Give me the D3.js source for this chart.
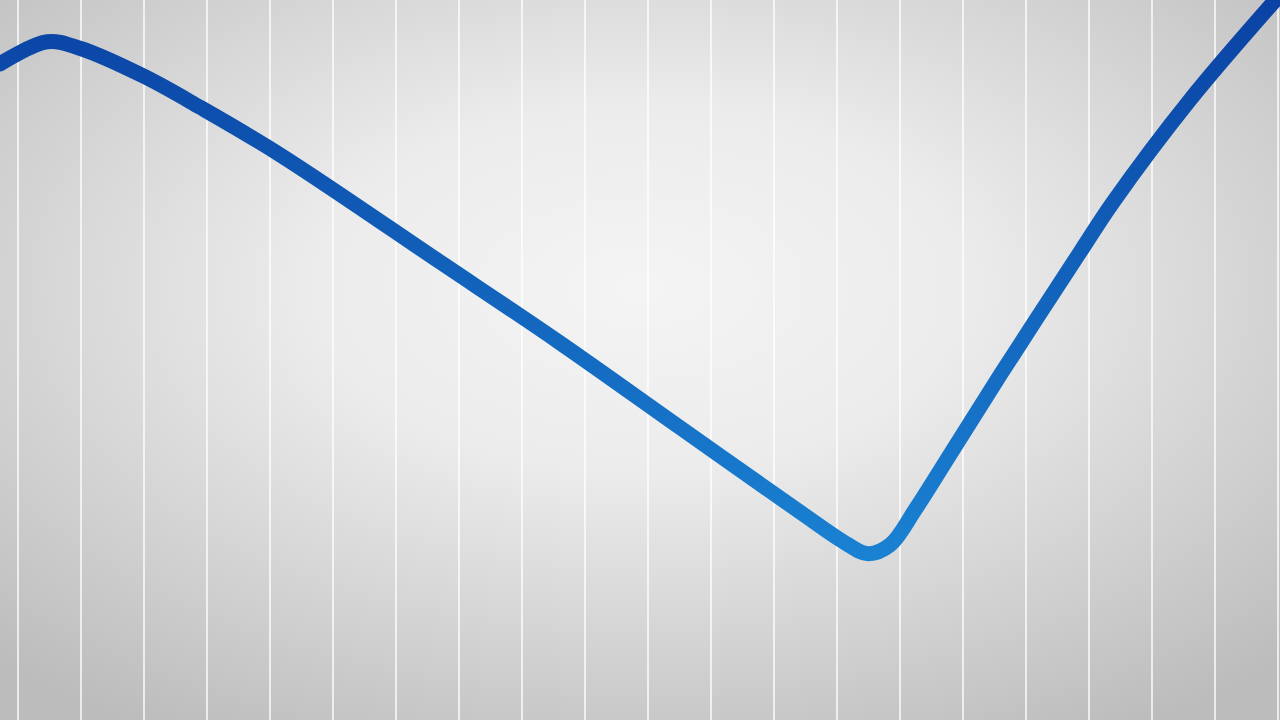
<!DOCTYPE html>
<html>
<head>
<meta charset="utf-8">
<script src="https://cdn.jsdelivr.net/npm/d3@7"></script>
<style>
  html, body { margin: 0; padding: 0; overflow: hidden; background: #d0d0d0; }
  svg { display: block; }
</style>
</head>
<body>
<div class="chart"></div>
<script>
const width = 1280;
const height = 720;

// vertical guide positions (index units)
const gridTicks = d3.range(0, 21);

// curve
const curveX = [-0.29, 0.46, 0.98, 2.0, 2.89, 4.16, 6.7, 8.6, 10.51, 12.41, 13.13, 13.49, 13.84, 14.24, 14.79, 15.59, 16.86, 17.38, 18.6, 20.03];
const curveY = [91.1, 94.2, 93.3, 89.4, 85.1, 78.5, 63.6, 52.4, 40.6, 28.9, 24.6, 23.1, 24.3, 29.2, 36.8, 47.9, 65.0, 71.9, 86.1, 100.7];

const x = d3.scaleLinear().domain([0, 20]).range([18, 1278]);
const y = d3.scaleLinear().domain([0, 100]).range([height, 0]);

const svg = d3
  .select('.chart')
  .append('svg')
  .attr('width', width)
  .attr('height', height);

const defs = svg.append('defs');

const bg = defs
  .append('radialGradient')
  .attr('id', 'bg')
  .attr('cx', '50%')
  .attr('cy', '40%')
  .attr('r', '72%');
bg.append('stop').attr('offset', '0%').attr('stop-color', '#f4f4f4');
bg.append('stop').attr('offset', '35%').attr('stop-color', '#ececec');
bg.append('stop').attr('offset', '100%').attr('stop-color', '#bcbcbc');

const lineGrad = defs
  .append('linearGradient')
  .attr('id', 'lineGrad')
  .attr('gradientUnits', 'userSpaceOnUse')
  .attr('x1', 0)
  .attr('y1', 0)
  .attr('x2', 0)
  .attr('y2', 560);
lineGrad.append('stop').attr('offset', '0%').attr('stop-color', '#0a42a4');
lineGrad.append('stop').attr('offset', '100%').attr('stop-color', '#1a82d3');

svg
  .append('rect')
  .attr('width', width)
  .attr('height', height)
  .attr('fill', 'url(#bg)');

svg
  .append('g')
  .selectAll('line')
  .data(gridTicks)
  .enter()
  .append('line')
  .attr('x1', d => x(d))
  .attr('x2', d => x(d))
  .attr('y1', 0)
  .attr('y2', height)
  .attr('stroke', '#ffffff')
  .attr('stroke-opacity', 0.7)
  .attr('stroke-width', 2);

const points = curveX.map((d, i) => [d, curveY[i]]);

const line = d3
  .line()
  .x(d => x(d[0]))
  .y(d => y(d[1]))
  .curve(d3.curveCatmullRom.alpha(0.5));

svg
  .append('path')
  .datum(points)
  .attr('fill', 'none')
  .attr('stroke', 'url(#lineGrad)')
  .attr('stroke-width', 15)
  .attr('stroke-linecap', 'round')
  .attr('stroke-linejoin', 'round')
  .attr('d', line);
</script>
</body>
</html>
